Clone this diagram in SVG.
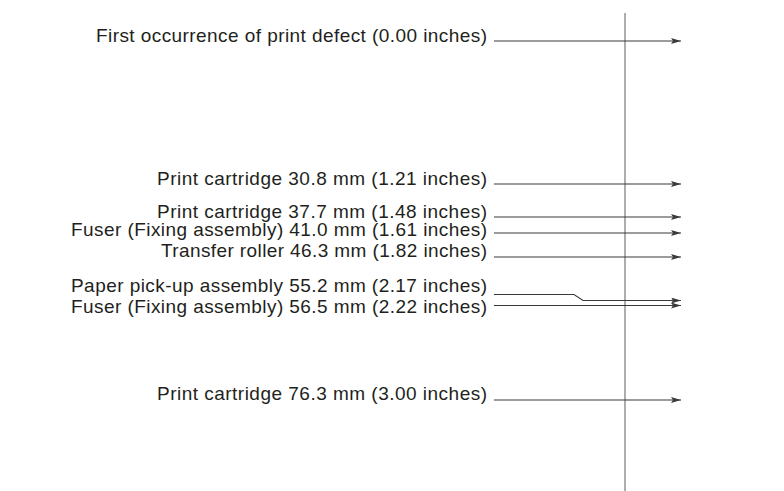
<svg xmlns="http://www.w3.org/2000/svg" width="784" height="491" viewBox="0 0 784 491">
<style>
text{font-family:"Liberation Sans",Arial,sans-serif;font-size:19px;fill:#231f20;text-anchor:end}
.c{fill:none;stroke:#3a3a3a;stroke-width:1.1}
</style>
<defs>
<marker id="ah" viewBox="0 0 10 6" refX="10" refY="3" markerWidth="10" markerHeight="6" markerUnits="userSpaceOnUse" orient="auto">
<path d="M0,0 L10,3 L0,6 L2,3 z" fill="#3a3a3a"/>
</marker>
</defs>
<rect width="784" height="491" fill="#fff"/>
<line x1="625" y1="13" x2="625" y2="491" stroke="#999" stroke-width="1.6"/>
<g id="labels">
<g id="n0"><text x="487" y="42" textLength="391" lengthAdjust="spacing">First occurrence of print defect (0.00 inches)</text></g>
<g id="n1"><text x="487" y="185" textLength="330" lengthAdjust="spacing">Print cartridge 30.8 mm (1.21 inches)</text></g>
<g id="n2"><text x="487" y="218" textLength="330" lengthAdjust="spacing">Print cartridge 37.7 mm (1.48 inches)</text></g>
<g id="n3"><text x="487" y="236" textLength="416" lengthAdjust="spacing">Fuser (Fixing assembly) 41.0 mm (1.61 inches)</text></g>
<g id="n4"><text x="487" y="257" textLength="326" lengthAdjust="spacing">Transfer roller 46.3 mm (1.82 inches)</text></g>
<g id="n5"><text x="487" y="292" textLength="416" lengthAdjust="spacing">Paper pick-up assembly 55.2 mm (2.17 inches)</text></g>
<g id="n6"><text x="487" y="313" textLength="416" lengthAdjust="spacing">Fuser (Fixing assembly) 56.5 mm (2.22 inches)</text></g>
<g id="n7"><text x="487" y="400" textLength="330" lengthAdjust="spacing">Print cartridge 76.3 mm (3.00 inches)</text></g>
</g>
<g id="connectors">
<line class="c" x1="494" y1="41" x2="681" y2="41" marker-end="url(#ah)"/>
<line class="c" x1="494" y1="184" x2="681" y2="184" marker-end="url(#ah)"/>
<line class="c" x1="494" y1="217" x2="681" y2="217" marker-end="url(#ah)"/>
<line class="c" x1="494" y1="233" x2="681" y2="233" marker-end="url(#ah)"/>
<line class="c" x1="494" y1="257" x2="681" y2="257" marker-end="url(#ah)"/>
<polyline class="c" points="494,294.5 574,294.5 583,300.5 681,300.5" marker-end="url(#ah)"/>
<line class="c" x1="494" y1="305.5" x2="681" y2="305.5" marker-end="url(#ah)"/>
<line class="c" x1="494" y1="400" x2="681" y2="400" marker-end="url(#ah)"/>
</g>
</svg>
